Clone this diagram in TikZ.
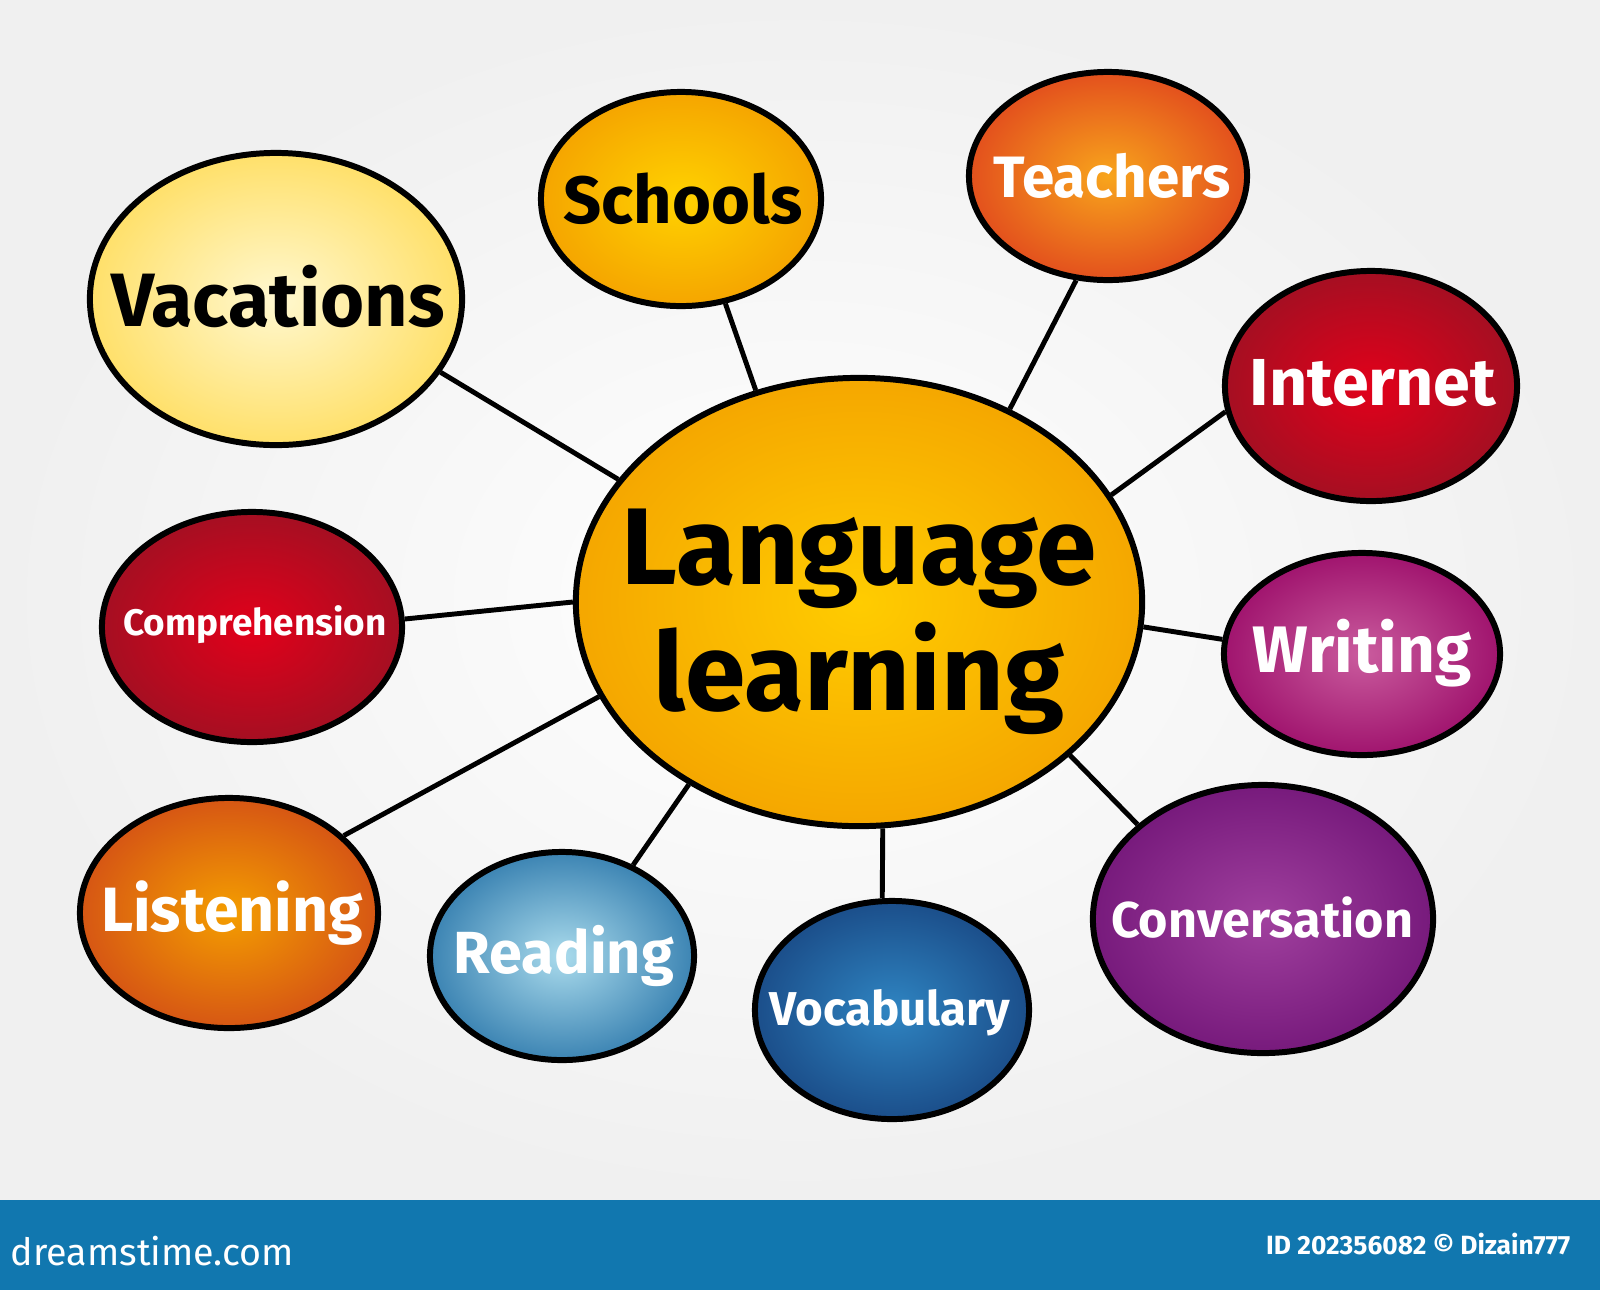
\documentclass[tikz,border=0pt]{standalone}
\usepackage{fontspec}
\setmainfont{Fira Sans}
\usetikzlibrary{shapes.geometric}
\definecolor{barblue}{HTML}{1177AF}
\definecolor{bgout}{HTML}{F0F0F0}
\definecolor{cIn}{HTML}{FFCC00}\definecolor{cOut}{HTML}{F5A700}
\definecolor{vacIn}{HTML}{FFF8D0}\definecolor{vacOut}{HTML}{FFE06A}
\definecolor{schIn}{HTML}{FFD200}\definecolor{schOut}{HTML}{F5A500}
\definecolor{teaIn}{HTML}{F8A51C}\definecolor{teaOut}{HTML}{E3501D}
\definecolor{redIn}{HTML}{E2001A}\definecolor{redOut}{HTML}{A50F22}
\definecolor{wriIn}{HTML}{CA5C9E}\definecolor{wriOut}{HTML}{A0146E}
\definecolor{conIn}{HTML}{A0409E}\definecolor{conOut}{HTML}{771A7C}
\definecolor{vocIn}{HTML}{2F85C2}\definecolor{vocOut}{HTML}{1B4E8A}
\definecolor{reaIn}{HTML}{AADBEC}\definecolor{reaOut}{HTML}{3C84B3}
\definecolor{lisIn}{HTML}{F49E00}\definecolor{lisOut}{HTML}{D65614}
\tikzset{
  bubble/.style={ellipse, draw=black, line width=1.7pt, inner sep=0pt},
  link/.style={draw=black, line width=1.4pt},
  wtext/.style={text=white, inner sep=0pt, align=center},
  btext/.style={text=black, inner sep=0pt, align=center},
}
\newcommand{\fs}[2]{\fontsize{#1}{#2}\selectfont}
\begin{document}
\begin{tikzpicture}[x=0.01cm,y=-0.01cm]
\useasboundingbox (0,0) rectangle (1600,1290);
\shade[inner color=white, outer color=bgout] (0,0) rectangle (1600,1200);
\fill[barblue] (0,1200) rectangle (1600,1290);
\node[text=white, anchor=base west, inner sep=0pt, font=\fs{10.7}{13}] (brand) at (10,1265) {dreamstime.com};
\node[text=white, anchor=base east, inner sep=0pt, font=\bfseries\fs{7.5}{9}] (credit) at (1571,1254) {ID 202356082 © Dizain777};

\node[bubble, minimum width=5.66cm, minimum height=4.48cm, inner color=cIn, outer color=cOut] (c) at (859,602) {};
\node[bubble, minimum width=3.72cm, minimum height=2.92cm, inner color=vacIn, outer color=vacOut] (vac) at (276,299) {};
\node[bubble, minimum width=2.80cm, minimum height=2.14cm, inner color=schIn, outer color=schOut] (sch) at (681,199) {};
\node[bubble, minimum width=2.78cm, minimum height=2.08cm, inner color=teaIn, outer color=teaOut] (tea) at (1108,176) {};
\node[bubble, minimum width=2.92cm, minimum height=2.30cm, inner color=redIn, outer color=redOut] (int) at (1371,386) {};
\node[bubble, minimum width=2.76cm, minimum height=2.02cm, inner color=wriIn, outer color=wriOut] (wri) at (1362,654) {};
\node[bubble, minimum width=3.40cm, minimum height=2.68cm, inner color=conIn, outer color=conOut] (con) at (1263,919) {};
\node[bubble, minimum width=2.74cm, minimum height=2.18cm, inner color=vocIn, outer color=vocOut] (voc) at (892,1010) {};
\node[bubble, minimum width=2.64cm, minimum height=2.08cm, inner color=reaIn, outer color=reaOut] (rea) at (562,956) {};
\node[bubble, minimum width=2.98cm, minimum height=2.30cm, inner color=lisIn, outer color=lisOut] (lis) at (229,913) {};
\node[bubble, minimum width=3.00cm, minimum height=2.30cm, inner color=redIn, outer color=redOut] (com) at (252,627) {};

\node[btext, font=\bfseries\fs{31}{36}] (ct) at (859,622) {Language\\learning};
\node[btext, font=\bfseries\fs{21.5}{24}] (vact) at (278,296) {Vacations};
\node[btext, font=\bfseries\fs{19}{22}] (scht) at (683,199) {Schools};
\node[wtext, font=\bfseries\fs{16.6}{20}] (teat) at (1112,176) {Teachers};
\node[wtext, font=\bfseries\fs{18.9}{22}] (intt) at (1373,383) {Internet};
\node[wtext, font=\bfseries\fs{18.7}{22}] (writ) at (1362,653) {Writing};
\node[wtext, font=\bfseries\fs{14.3}{17}] (cont) at (1262,918) {Conversation};
\node[wtext, font=\bfseries\fs{13.5}{16}] (voct) at (890,1013) {Vocabulary};
\node[wtext, font=\bfseries\fs{16.9}{20}] (reat) at (564,956) {Reading};
\node[wtext, font=\bfseries\fs{17.8}{21}] (list) at (232,913) {Listening};
\node[wtext, font=\bfseries\fs{10.5}{13}] (comt) at (255,625) {Comprehension};

\draw[link] (c.153.6) -- (vac.-24.4);
\draw[link] (c.116.9) -- (sch.-67.7);
\draw[link] (c.52.3) -- (tea.-107);
\draw[link] (c.23.2) -- (int.190.9);
\draw[link] (c.-5.5) -- (wri.174.1);
\draw[link] (c.-36.7) -- (con.143.6);
\draw[link] (c.-84) -- (voc.95);
\draw[link] (c.227) -- (rea.52.3);
\draw[link] (c.200.4) -- (lis.34.6);
\draw[link] (c.180.4) -- (com.3.4);
\end{tikzpicture}
\end{document}
